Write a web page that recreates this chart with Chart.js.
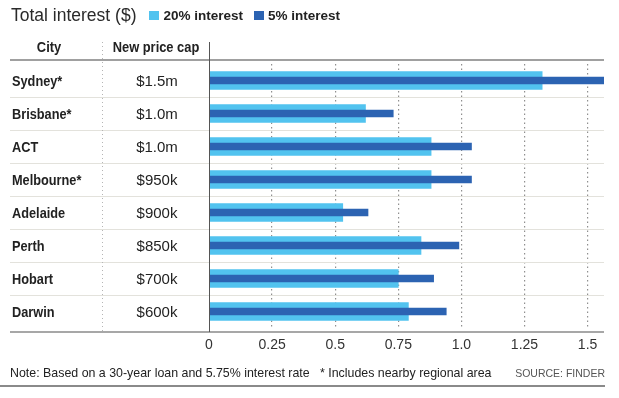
<!DOCTYPE html>
<html>
<head>
<meta charset="utf-8">
<script src="https://cdn.jsdelivr.net/npm/chart.js@4/dist/chart.umd.min.js"></script>
<style>
  body { margin: 0; background: #fff; font-family: "Liberation Sans", Arial, sans-serif; color: #222; }
  #wrap { position: relative; width: 619px; height: 398px; overflow: hidden; }
  #chart { position: absolute; left: 0; top: 0; }
  #head { position: absolute; left: 11px; top: 4px; height: 22px; display: flex; align-items: center; white-space: nowrap; }
  #head .title { font-size: 17.5px; color: #2a2a2a; margin-right: 13px; }
  #head .key { display: inline-block; width: 10px; height: 9px; margin-right: 4px; }
  #head .lab { font-size: 13.5px; font-weight: bold; margin-right: 11px; }
  #note { position: absolute; left: 10px; top: 364px; font-size: 12.4px; line-height: 18px; color: #222; white-space: nowrap; }
  #source { position: absolute; right: 14px; top: 364px; font-size: 10.5px; line-height: 18px; color: #555; white-space: nowrap; }
  #rule { position: absolute; left: 0; width: 605px; top: 385px; border-top: 2px solid #8a8a8a; }
</style>
</head>
<body>
<div id="wrap">
  <canvas id="chart" width="619" height="398"></canvas>
  <div id="head"><span class="title">Total interest ($)</span></div>
  <div id="note">Note: Based on a 30-year loan and 5.75% interest rate&nbsp;&nbsp;&nbsp;* Includes nearby regional area</div>
  <div id="source">SOURCE: FINDER</div>
  <div id="rule"></div>
</div>
<script>
// table rows
const cities = ['Sydney*', 'Brisbane*', 'ACT', 'Melbourne*', 'Adelaide', 'Perth', 'Hobart', 'Darwin'];
const priceCaps = ['$1.5m', '$1.0m', '$1.0m', '$950k', '$900k', '$850k', '$700k', '$600k'];
const columnHeads = ['City', 'New price cap'];

// total interest, $m
const interest20 = [1.32, 0.62, 0.88, 0.88, 0.53, 0.84, 0.75, 0.79];
const interest5 = [1.57, 0.73, 1.04, 1.04, 0.63, 0.99, 0.89, 0.94];
const seriesNames = ['20% interest', '5% interest'];
const seriesColors = ['#52c3ef', '#2c63b2'];

const xTicks = [0, 0.25, 0.5, 0.75, 1, 1.25, 1.5];
const xTickLabels = ['0', '0.25', '0.5', '0.75', '1.0', '1.25', '1.5'];

// legend next to the title
const head = document.getElementById('head');
seriesNames.forEach((name, i) => {
    const k = document.createElement('span');
    k.className = 'key';
    k.style.background = seriesColors[i];
    const t = document.createElement('span');
    t.className = 'lab';
    t.textContent = name;
    head.appendChild(k);
    head.appendChild(t);
});

// draws the city / price columns, row rules and the axis line
const tablePlugin = {
    id: 'table',
    beforeDatasetsDraw(chart) {
        const { ctx, chartArea, scales: { y } } = chart;
        const band = y.getPixelForValue(1) - y.getPixelForValue(0);
        ctx.save();
        ctx.strokeStyle = '#e3e2dc';
        ctx.lineWidth = 1;
        for (let i = 0; i < cities.length - 1; i++) {
            const yy = Math.round(y.getPixelForValue(i) + band / 2) + 0.5;
            ctx.beginPath();
            ctx.moveTo(10, yy);
            ctx.lineTo(chartArea.right, yy);
            ctx.stroke();
        }
        ctx.restore();
    },
    afterDraw(chart) {
        const { ctx, chartArea, scales: { y } } = chart;
        const top = chartArea.top - 4;
        const bottom = chartArea.bottom + 4;
        ctx.save();

        // header and bottom rules
        ctx.strokeStyle = '#a0a0a0';
        ctx.lineWidth = 2;
        ctx.beginPath();
        ctx.moveTo(10, top);
        ctx.lineTo(chartArea.right, top);
        ctx.stroke();
        ctx.strokeStyle = '#8a8a8a';
        ctx.lineWidth = 1.5;
        ctx.beginPath();
        ctx.moveTo(10, bottom);
        ctx.lineTo(chartArea.right, bottom);
        ctx.stroke();

        // column divider
        ctx.strokeStyle = '#b5b5b5';
        ctx.lineWidth = 1;
        ctx.setLineDash([1, 3]);
        ctx.beginPath();
        ctx.moveTo(102.5, 42);
        ctx.lineTo(102.5, bottom);
        ctx.stroke();
        ctx.setLineDash([]);

        // zero axis line
        ctx.strokeStyle = '#555';
        ctx.beginPath();
        ctx.moveTo(chartArea.left + 0.5, 42);
        ctx.lineTo(chartArea.left + 0.5, bottom);
        ctx.stroke();

        ctx.fillStyle = '#222';
        ctx.textBaseline = 'middle';

        // column headings
        ctx.font = 'bold 14px "Liberation Sans", Arial, sans-serif';
        ctx.textAlign = 'center';
        [[49, columnHeads[0]], [156, columnHeads[1]]].forEach(([cx, txt]) => {
            ctx.save();
            ctx.translate(cx, 48);
            ctx.scale(0.92, 1);
            ctx.fillText(txt, 0, 0);
            ctx.restore();
        });

        cities.forEach((c, i) => {
            const py = y.getPixelForValue(i) + 1;
            ctx.save();
            ctx.font = 'bold 15px "Liberation Sans", Arial, sans-serif';
            ctx.textAlign = 'left';
            ctx.translate(12, py);
            ctx.scale(0.85, 1);
            ctx.fillText(c, 0, 0);
            ctx.restore();
            ctx.font = '15px "Liberation Sans", Arial, sans-serif';
            ctx.textAlign = 'center';
            ctx.fillText(priceCaps[i], 157, py);
        });
        ctx.restore();
    }
};

const ctx = document.getElementById('chart').getContext('2d');

const chart = new Chart(ctx, {
    type: 'bar',
    data: {
        labels: cities,
        datasets: [
            {
                label: seriesNames[1],
                data: interest5,
                backgroundColor: seriesColors[1],
                barThickness: 7,
                order: 0
            },
            {
                label: seriesNames[0],
                data: interest20,
                backgroundColor: seriesColors[0],
                barThickness: 18,
                order: 1
            }
        ]
    },
    options: {
        indexAxis: 'y',
        responsive: false,
        animation: false,
        grouped: false,
        layout: { padding: { left: 209, right: 15, top: 64, bottom: 0 } },
        scales: {
            x: {
                min: 0,
                max: 1.565,
                afterFit: (s) => { s.height = 70; },
                afterBuildTicks: (s) => { s.ticks = xTicks.map(v => ({ value: v })); },
                border: { display: false, dash: [1.5, 3] },
                grid: {
                    drawTicks: false,
                    color: (c) => c.tick && c.tick.value === 0 ? 'rgba(0,0,0,0)' : '#8f8f8f',
                    lineWidth: 1.2
                },
                ticks: {
                    padding: 9,
                    color: '#333',
                    font: { family: '"Liberation Sans", Arial, sans-serif', size: 14 },
                    callback: (v) => xTickLabels[xTicks.indexOf(v)]
                }
            },
            y: { display: false }
        },
        plugins: {
            legend: { display: false },
            tooltip: { enabled: false }
        }
    },
    plugins: [tablePlugin]
});
</script>
</body>
</html>
